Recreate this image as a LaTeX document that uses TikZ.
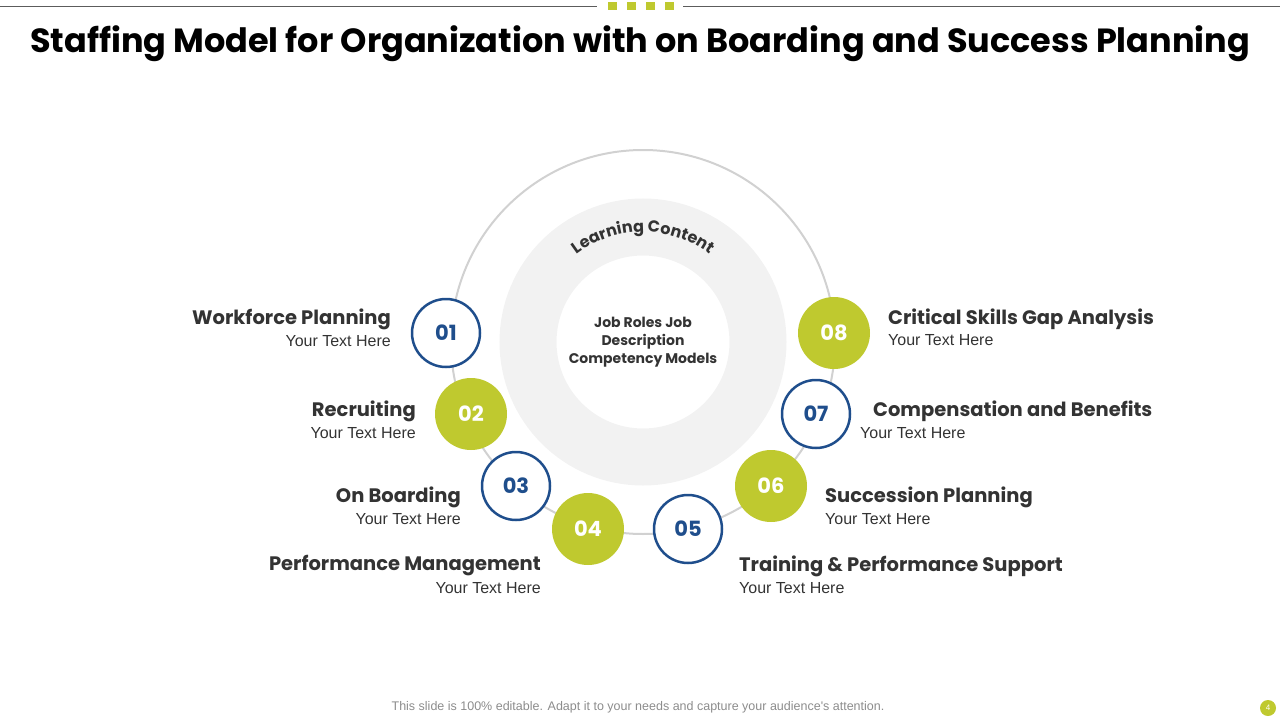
\documentclass[tikz,border=0pt]{standalone}
\usepackage{fontspec}
\setmainfont{Poppins}
\newfontfamily\arialfont{Liberation Sans}
\usetikzlibrary{positioning,decorations.text}
\definecolor{stblue}{HTML}{1F4E8C}
\definecolor{stgreen}{HTML}{BFC92F}
\definecolor{sttext}{HTML}{333333}
\definecolor{string}{HTML}{F2F2F2}

\begin{document}
\begin{tikzpicture}[x=1pt,y=-1pt,
    bluenum/.style={circle,draw=stblue,line width=2.5pt,fill=white,minimum size=68pt,
      text=stblue,font=\fontsize{21}{21}\selectfont\bfseries},
    greennum/.style={circle,fill=stgreen,minimum size=72pt,
      text=white,font=\fontsize{21}{21}\selectfont\bfseries},
    heading/.style={text=sttext,font=\fontsize{19.5}{21}\selectfont\bfseries,inner sep=0pt},
    subtext/.style={text=sttext,font=\arialfont\fontsize{16}{18}\selectfont,inner sep=0pt}
  ]
    \useasboundingbox (0,0) rectangle (1280,720);
    % top rule
    \draw[color=sttext!80,line width=1pt] (0,6) -- (597,6) (683,6) -- (1280,6);
    \foreach \x in {608,627,646,665}
      \fill[stgreen] (\x,2) rectangle ++(9,8);
    \node[text=black,font=\fontsize{33.5}{35}\selectfont\bfseries] (title) at (640,44)
      {Staffing Model for Organization with on Boarding and Success Planning};

    % rings
    \coordinate (c) at (643,342);
    \draw[color=black!18,line width=2pt] (c) circle[radius=192];
    \draw[string,line width=57pt] (c) circle[radius=115];
    \begin{scope}[shift={(643,342)},y=1pt]
      \path[decorate,decoration={text along path,text align=center,
          text={|\fontsize{16}{16}\selectfont\bfseries\color{sttext}|Learning Content}}]
        (-110,0) arc[start angle=180,end angle=0,radius=110];
    \end{scope}
    \node[text=sttext,align=center,font=\fontsize{14}{18}\selectfont\bfseries] (core) at (643,342)
      {Job Roles Job\\Description\\Competency Models};

    % numbered circles
    \node[bluenum]  (n1) at (446,333) {01};
    \node[greennum] (n2) at (471,414) {02};
    \node[bluenum]  (n3) at (516,486) {03};
    \node[greennum] (n4) at (588,529) {04};
    \node[bluenum]  (n5) at (688,529) {05};
    \node[greennum] (n6) at (771,486) {06};
    \node[bluenum]  (n7) at (816,414) {07};
    \node[greennum] (n8) at (834,333) {08};

    % left labels
    \node[heading,anchor=east] (h1) at (391,319) {Workforce Planning};
    \node[subtext,anchor=east] (s1) at (391,341) {Your Text Here};
    \node[heading,anchor=east] (h2) at (416,411) {Recruiting};
    \node[subtext,anchor=east] (s2) at (416,433) {Your Text Here};
    \node[heading,anchor=east] (h3) at (461,497) {On Boarding};
    \node[subtext,anchor=east] (s3) at (461,519) {Your Text Here};
    \node[heading,anchor=east] (h4) at (541,566) {Performance Management};
    \node[subtext,anchor=east] (s4) at (541,588) {Your Text Here};
    % right labels
    \node[heading,anchor=west] (h8) at (888,319) {Critical Skills Gap Analysis};
    \node[subtext,anchor=west] (s8) at (888,340) {Your Text Here};
    \node[heading,anchor=west] (h7) at (873,411) {Compensation and Benefits};
    \node[subtext,anchor=west] (s7) at (860,433) {Your Text Here};
    \node[heading,anchor=west] (h6) at (825,497) {Succession Planning};
    \node[subtext,anchor=west] (s6) at (825,519) {Your Text Here};
    \node[heading,anchor=west] (h5) at (739,566) {Training \& Performance Support};
    \node[subtext,anchor=west] (s5) at (739,588) {Your Text Here};

    % footer
    \node[text=black!45,font=\arialfont\fontsize{12.5}{12}\selectfont] (foot) at (638,707)
      {This slide is 100\% editable. Adapt it to your needs and capture your audience's attention.};
    \node[circle,fill=stgreen,minimum size=16pt,inner sep=0pt,text=white,
      font=\arialfont\fontsize{8}{8}\selectfont] (page) at (1268,708) {4};
\end{tikzpicture}
\end{document}
